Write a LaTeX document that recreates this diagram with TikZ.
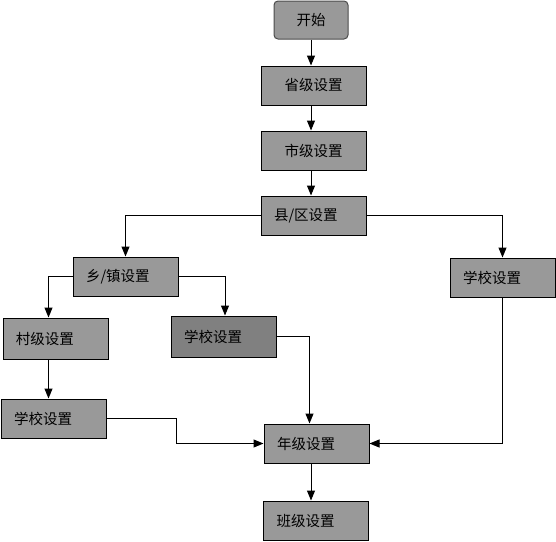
\documentclass[tikz,border=0pt]{standalone}
\usepackage{fontspec}
\newfontfamily\cjk{Noto Sans CJK SC}
\usetikzlibrary{arrows.meta}
\definecolor{boxgray}{RGB}{153,153,153}
\definecolor{darkgray}{RGB}{128,128,128}
\tikzset{
  box/.style={draw, line width=1pt, fill=boxgray, minimum height=39pt,
    text width=79pt, inner xsep=13pt, inner ysep=0pt, align=left,
    font=\cjk\fontsize{14.5}{16}\selectfont},
  midbox/.style={box, align=center},
  flow/.style={line width=1pt, -{Triangle[length=10pt,width=8pt]}}
}
\begin{document}
\begin{tikzpicture}[x=1pt,y=-1pt]
        \useasboundingbox (0,0) rectangle (556,541);
        %% main column
        \node[box, align=center, text width=48pt, minimum height=38pt, rounded corners=4pt,
              draw=black!70] (start) at (311,20) {开始};
        \node[midbox] (prov) at (313.5,85.5) {省级设置};
        \node[midbox] (city) at (313.5,150.5) {市级设置};
        \node[box] (county) at (313.5,215.5) {县/区设置};
        \draw[flow] (start) -- (start |- prov.north);
        \draw[flow] (prov.south -| start) -- (city.north -| start);
        \draw[flow] (city.south -| start) -- (county.north -| start);
        %% county branches
        \node[box] (town) at (125.5,276.5) {乡/镇设置};
        \node[box] (schR) at (502.5,277.5) {学校设置};
        \draw[flow] (county.west) -| (town.north);
        \draw[flow] (county.east) -| (schR.north);
        %% town branches
        \node[box, minimum height=41pt] (village) at (55.5,338.5) {村级设置};
        \node[box, minimum height=41pt, fill=darkgray] (schM) at (223.5,336.5) {学校设置};
        \node[box] (schL) at (53.5,418.5) {学校设置};
        \draw[flow] (town.west) -| ([xshift=-7pt]village.north);
        \draw[flow] (town.east) -| ([xshift=1.5pt]schM.north);
        \draw[flow] ([xshift=-7pt]village.south) -- ([xshift=-7pt]village.south |- schL.north);
        %% grade and class
        \node[box] (grade) at (316.5,443.5) {年级设置};
        \node[box] (class) at (316,520.5) {班级设置};
        \draw[flow] (schL.east) -- ++(70,0) |- (grade.west);
        \draw[flow] (schM.east) -| ([xshift=-7pt]grade.north);
        \draw[flow] (schR.south) |- (grade.east);
        \draw[flow] (grade.south -| start) -- (class.north -| start);
    \end{tikzpicture}
\end{document}
